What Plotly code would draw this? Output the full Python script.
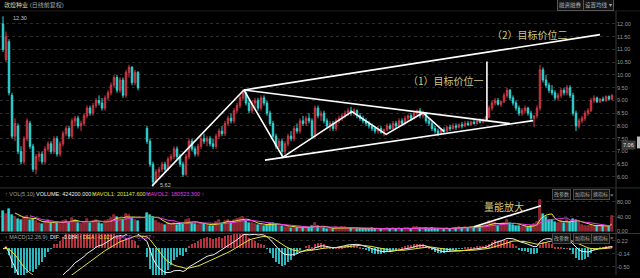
import plotly.graph_objects as go
import pandas as pd

W, H = 640, 278

# ---------------- data ----------------
left_index = list(range(0, 46))
right_index = list(range(48, 204))      # 46,47: suspension gap
bar_index = left_index + right_index

open_left = [12.0,10.6,11.3,9.2,7.6,8.0,7.0,6.6,7.5,8.1,7.2,6.3,6.8,6.9,6.6,7.1,7.3,7.0,7.5,6.9,
             7.3,7.7,7.9,7.6,8.2,8.3,8.0,8.1,8.4,8.7,8.5,8.8,9.0,8.9,8.7,9.1,9.3,9.6,9.9,9.4,
             9.8,9.2,10.1,10.3,9.7,10.1]
high_left = [12.3,11.7,11.4,9.3,8.3,8.1,7.2,7.6,8.3,8.2,7.3,6.9,7.0,7.0,7.2,7.4,7.4,7.6,7.6,7.4,
             7.8,8.0,8.0,8.3,8.4,8.4,8.2,8.5,8.8,8.8,8.9,9.1,9.2,9.1,9.2,9.4,9.7,10.0,10.0,9.9,
             9.9,10.2,10.4,10.35,10.2,10.15]
low_left = [10.9,10.5,9.2,7.5,7.4,6.9,6.5,6.5,7.4,7.1,6.2,6.1,6.6,6.5,6.5,7.0,6.9,6.9,6.8,6.8,
            7.2,7.6,7.5,7.5,8.0,7.9,7.8,8.0,8.3,8.4,8.4,8.7,8.8,8.6,8.6,9.0,9.2,9.5,9.3,9.3,
            9.1,9.1,9.9,9.6,9.6,9.4]
close_left = [11.0,11.5,9.3,7.6,8.1,7.0,6.6,7.5,8.2,7.2,6.3,6.8,6.9,6.6,7.1,7.3,7.0,7.5,6.9,7.3,
              7.7,7.9,7.6,8.2,8.3,8.0,8.1,8.4,8.7,8.5,8.8,9.0,8.9,8.7,9.1,9.3,9.6,9.9,9.4,9.8,
              9.2,10.1,10.3,9.7,10.1,9.5]

open_right = [7.9,7.4,6.5,5.8,6.2,6.3,6.5,6.3,6.7,6.8,
              7.1,6.8,6.5,6.1,6.8,7.4,7.1,6.9,7.2,7.5,
              7.4,7.5,7.3,7.2,7.6,7.8,7.7,8.1,8.3,8.2,
              8.6,8.8,9.1,9.3,8.9,8.6,8.9,9.0,8.7,9.1,
              8.9,8.5,8.1,7.6,7.2,7.4,7.0,7.3,7.6,7.5,
              7.9,7.8,8.2,8.1,8.3,8.2,7.6,8.7,8.4,8.5,
              8.2,8.0,8.1,7.9,8.2,8.3,8.4,8.5,8.6,8.5,
              8.6,8.4,8.3,8.2,8.1,8.0,7.9,7.8,7.9,7.75,
              7.85,8.0,7.9,8.1,8.0,8.2,8.1,8.3,8.4,8.3,
              8.5,8.6,8.4,8.5,8.2,8.1,7.9,7.8,7.7,7.85,
              7.8,7.95,7.9,8.0,7.95,8.05,8.0,8.1,8.05,8.15,
              8.1,8.2,8.15,8.25,8.35,8.7,8.9,9.0,8.85,8.95,
              9.2,9.4,9.1,8.9,8.7,8.5,8.6,8.7,8.5,8.3,
              8.4,8.7,10.2,9.8,9.6,9.4,9.3,9.1,9.2,9.4,
              9.3,9.5,9.2,8.5,8.0,8.2,8.3,8.5,8.6,9.0,
              9.1,8.95,9.05,9.0,9.15,9.05]
high_right = [8.0,7.5,6.6,6.3,6.4,6.6,6.6,6.8,6.9,7.2,
              7.2,6.9,6.6,6.9,7.5,7.5,7.2,7.3,7.6,7.7,
              7.6,7.6,7.5,7.7,7.9,8.0,8.2,8.4,8.5,8.7,
              8.9,9.2,9.45,9.35,9.0,9.0,9.1,9.1,9.2,9.2,
              9.0,8.6,8.2,7.7,7.5,7.5,7.4,7.7,7.8,8.0,
              8.1,8.3,8.4,8.4,8.5,8.3,8.8,8.8,8.6,8.6,
              8.3,8.2,8.2,8.3,8.4,8.5,8.6,8.7,8.75,8.7,
              8.65,8.5,8.4,8.3,8.2,8.1,8.0,8.0,8.0,7.9,
              8.1,8.1,8.2,8.2,8.3,8.3,8.4,8.45,8.5,8.6,
              8.65,8.7,8.6,8.55,8.3,8.2,8.0,7.9,7.9,7.95,
              8.0,8.05,8.1,8.1,8.1,8.15,8.2,8.2,8.2,8.25,
              8.25,8.3,8.3,8.4,8.8,9.0,9.1,9.1,9.0,9.3,
              9.5,9.45,9.2,9.0,8.8,8.7,8.8,8.75,8.6,8.4,
              8.8,10.4,10.3,10.0,9.7,9.6,9.4,9.3,9.5,9.5,
              9.6,9.6,9.3,8.6,8.3,8.4,8.6,8.7,9.1,9.2,
              9.15,9.1,9.15,9.2,9.2,9.25]
low_right = [7.3,6.4,5.62,5.75,6.0,6.2,6.2,6.25,6.6,6.7,
             6.7,6.4,6.0,6.05,6.7,7.0,6.8,6.8,7.1,7.3,
             7.2,7.2,7.1,7.1,7.5,7.6,7.6,8.0,8.1,8.1,
             8.5,8.7,9.0,8.8,8.5,8.5,8.7,8.6,8.6,8.8,
             8.4,8.0,7.5,7.1,7.1,6.8,6.9,7.2,7.4,7.4,
             7.7,7.7,8.0,8.0,8.1,7.5,7.5,8.3,8.2,8.1,
             7.9,7.8,7.8,7.8,8.1,8.2,8.3,8.4,8.4,8.4,
             8.3,8.2,8.1,8.0,7.9,7.8,7.7,7.7,7.7,7.6,
             7.8,7.85,7.85,7.9,7.95,8.0,8.05,8.2,8.2,8.25,
             8.4,8.3,8.3,8.1,8.0,7.8,7.7,7.6,7.65,7.7,
             7.75,7.8,7.85,7.85,7.9,7.9,7.95,8.0,8.0,8.05,
             8.05,8.1,8.1,8.15,8.3,8.6,8.8,8.8,8.75,8.9,
             9.1,9.0,8.8,8.6,8.4,8.4,8.5,8.4,8.2,7.95,
             8.3,8.6,9.7,9.5,9.3,9.2,9.0,9.0,9.1,9.2,
             9.2,9.1,8.4,7.8,7.9,8.1,8.2,8.4,8.55,8.9,
             8.9,8.9,8.95,8.95,9.0,9.0]
close_right = [7.4,6.5,5.8,6.2,6.3,6.5,6.3,6.7,6.8,7.1,
               6.8,6.5,6.1,6.8,7.4,7.1,6.9,7.2,7.5,7.4,
               7.5,7.3,7.2,7.6,7.8,7.7,8.1,8.3,8.2,8.6,
               8.8,9.1,9.3,8.9,8.6,8.9,9.0,8.7,9.1,8.9,
               8.5,8.1,7.6,7.2,7.4,7.0,7.3,7.6,7.5,7.9,
               7.8,8.2,8.1,8.3,8.2,7.6,8.7,8.4,8.5,8.2,
               8.0,8.1,7.9,8.2,8.3,8.4,8.5,8.6,8.5,8.6,
               8.4,8.3,8.2,8.1,8.0,7.9,7.8,7.9,7.75,7.85,
               8.0,7.9,8.1,8.0,8.2,8.1,8.3,8.4,8.3,8.5,
               8.6,8.4,8.5,8.2,8.1,7.9,7.8,7.7,7.85,7.8,
               7.95,7.9,8.0,7.95,8.05,8.0,8.1,8.05,8.15,8.1,
               8.2,8.15,8.25,8.35,8.7,8.9,9.0,8.85,8.95,9.2,
               9.4,9.1,8.9,8.7,8.5,8.6,8.7,8.5,8.3,8.4,
               8.7,10.2,9.8,9.6,9.4,9.3,9.1,9.2,9.4,9.3,
               9.5,9.2,8.5,8.0,8.2,8.3,8.5,8.6,9.0,9.1,
               8.95,9.05,9.0,9.15,9.05,9.2]

# volume in units of 10,000 shares
volume_left = [55,48,60,45,40,35,30,38,42,30,35,28,22,20,25,30,22,26,24,20,
               28,32,24,36,30,22,20,26,34,24,28,32,22,20,28,30,36,45,40,32,
               30,48,44,36,30,28]
volume_right = [50,45,40,28,22,20,18,22,20,24,
                18,20,22,30,34,24,20,18,22,20,
                18,16,15,26,30,22,28,32,24,30,
                34,36,38,28,24,22,20,18,20,16,
                18,22,24,20,14,16,12,14,10,14,
                10,12,10,11,9,14,22,14,10,9,
                8,9,8,12,10,11,12,10,9,10,
                8,7,8,7,8,9,7,6,8,7,
                9,8,10,8,9,8,10,9,8,11,
                12,10,9,10,8,9,8,7,7,8,
                9,8,10,9,11,10,12,10,11,13,
                12,14,16,18,28,24,22,16,18,24,
                30,22,18,14,16,12,14,12,16,20,
                26,85,48,40,32,30,26,22,28,24,
                30,26,34,30,22,18,16,15,17,16,
                15.95,15,14,15,14.15,42.42]

price_ticks = [6.0,6.5,7.0,7.5,8.0,8.5,9.0,9.5,10.0,10.5,11.0,11.5,12.0]
vol_ticks = [0,40,80]
macd_ticks = [-0.50,-0.14,0.22]

# hand-drawn pattern lines (bar index, price)
rise_x, rise_y = [49.7, 80.3], [5.65, 9.41]
target2_x, target2_y = [80.3, 199.0], [9.41, 11.58]
upper_x, upper_y = [80.3, 169.0], [9.41, 8.09]
lower_x, lower_y = [87.3, 176.7], [6.66, 8.21]
zig_x = [80.3, 93.3, 116.3, 127.7, 140.0, 147.0]
zig_y = [9.41, 6.78, 8.56, 7.67, 8.52, 7.78]
height_x, height_y = [161.3, 161.3], [8.20, 10.53]
volup_x, volup_y = [157.0, 179.3], [13, 69]
event_index = [1,5,8,16,19,20,21,24,26,45,47,50,52,58,67,80,82,83,85,96,108,111,
               136,137,142,149,158,175,177,179,193,195]

# ---------------- derived ----------------
opens = open_left + open_right
highs = high_left + high_right
lows = low_left + low_right
closes = close_left + close_right
volumes = volume_left + volume_right

df = pd.DataFrame(dict(x=bar_index, o=opens, h=highs, l=lows, c=closes, v=volumes))
ema12 = df.c.ewm(span=12, adjust=False).mean()
ema26 = df.c.ewm(span=26, adjust=False).mean()
df["dif"] = ema12 - ema26
df["dea"] = df.dif.ewm(span=9, adjust=False).mean()
df["macd"] = 2 * (df.dif - df.dea)
df["ma5"] = df.v.rolling(5).mean()
df["ma10"] = df.v.rolling(10).mean()
up = df.c >= df.o

RED = "#d63a46"
RED_FILL = "#7a2230"
CYAN = "#30d6d6"
HRED = "#b8323e"
HCYAN = "#2ab8c0"
YEL = "#e6e23c"
MAG = "#e040e0"
WHITE = "#eeeeee"
LBL = "#cfcb80"
GRID = "#2c2c2c"
AXT = "#9a9a9a"

def px(x):
    return x / W

def py(y):
    return 1 - y / H

fig = go.Figure()

fig.add_trace(go.Candlestick(
    x=df.x, open=df.o, high=df.h, low=df.l, close=df.c,
    increasing=dict(line=dict(color=RED, width=1), fillcolor=RED_FILL),
    decreasing=dict(line=dict(color=CYAN, width=1), fillcolor=CYAN),
    whiskerwidth=0, showlegend=False, hoverinfo="skip", xaxis="x", yaxis="y"))

fig.add_trace(go.Bar(
    x=df.x, y=df.v, width=0.7,
    marker=dict(color=[RED_FILL if u else CYAN for u in up],
                line=dict(color=[RED if u else CYAN for u in up], width=0.6)),
    showlegend=False, hoverinfo="skip", xaxis="x2", yaxis="y2"))
fig.add_trace(go.Scatter(x=df.x, y=df.ma5, mode="lines", line=dict(color=YEL, width=1),
                         showlegend=False, hoverinfo="skip", xaxis="x2", yaxis="y2"))
fig.add_trace(go.Scatter(x=df.x, y=df.ma10, mode="lines", line=dict(color=MAG, width=1),
                         showlegend=False, hoverinfo="skip", xaxis="x2", yaxis="y2"))

fig.add_trace(go.Bar(
    x=df.x, y=df.macd, width=0.28,
    marker=dict(color=[HRED if m >= 0 else HCYAN for m in df.macd], line=dict(width=0)),
    showlegend=False, hoverinfo="skip", xaxis="x3", yaxis="y3"))
fig.add_trace(go.Scatter(x=df.x, y=df.dif, mode="lines", line=dict(color=WHITE, width=1),
                         showlegend=False, hoverinfo="skip", xaxis="x3", yaxis="y3"))
fig.add_trace(go.Scatter(x=df.x, y=df.dea, mode="lines", line=dict(color=YEL, width=1),
                         showlegend=False, hoverinfo="skip", xaxis="x3", yaxis="y3"))

# pattern lines
for xs, ys in [(rise_x, rise_y), (target2_x, target2_y), (upper_x, upper_y),
               (lower_x, lower_y), (zig_x, zig_y), (height_x, height_y)]:
    fig.add_trace(go.Scatter(x=xs, y=ys, mode="lines", line=dict(color="#ffffff", width=1.6),
                             showlegend=False, hoverinfo="skip", xaxis="x", yaxis="y"))
fig.add_trace(go.Scatter(x=volup_x, y=volup_y, mode="lines", line=dict(color="#ffffff", width=1.6),
                         showlegend=False, hoverinfo="skip", xaxis="x2", yaxis="y2",
                         cliponaxis=False))
# event markers along the top
fig.add_trace(go.Scatter(x=event_index, y=[12.6] * len(event_index), mode="markers",
                         marker=dict(symbol="line-ns", size=3.5, line=dict(color="#d0d0d0", width=1.2)),
                         showlegend=False, hoverinfo="skip", xaxis="x", yaxis="y", cliponaxis=False))

XR = [-1, 204.33]
XD = [0, px(616)]
xcommon = dict(range=XR, domain=XD, showgrid=False, zeroline=False, showticklabels=False,
               showline=False, ticks="")
ycommon = dict(side="right", showline=False, zeroline=False, ticks="", gridcolor=GRID,
               griddash="dot", gridwidth=1, tickfont=dict(size=5.5, color=AXT, family="Liberation Sans"))

fig.update_layout(
    width=W, height=H, margin=dict(l=0, r=0, t=0, b=0),
    paper_bgcolor="#000000", plot_bgcolor="#000000",
    showlegend=False, bargap=0,
    xaxis=dict(**xcommon, anchor="y", rangeslider=dict(visible=False)),
    xaxis2=dict(**xcommon, anchor="y2", matches="x"),
    xaxis3=dict(**xcommon, anchor="y3", matches="x"),
    yaxis=dict(**ycommon, domain=[py(190), py(10)], range=[5.57, 12.55], anchor="x",
               tickvals=price_ticks, ticktext=[f"{t:.2f}" for t in price_ticks]),
    yaxis2=dict(**ycommon, domain=[py(234), py(190)], range=[0, 117], anchor="x2",
                tickvals=vol_ticks, ticktext=[f"{t:.2f}" for t in vol_ticks]),
    yaxis3=dict(**ycommon, domain=[0, py(236)], range=[-0.72, 0.42], anchor="x3",
                tickvals=macd_ticks, ticktext=[f"{t:.2f}" for t in macd_ticks]),
)

shapes = [
    dict(type="line", xref="paper", yref="paper", x0=px(616), x1=px(616), y0=0, y1=py(11),
         line=dict(color="#3a3a3a", width=1)),
    dict(type="line", xref="paper", yref="paper", x0=0, x1=1, y0=py(190), y1=py(190),
         line=dict(color="#2e2e2e", width=1)),
    dict(type="line", xref="paper", yref="paper", x0=0, x1=1, y0=py(236), y1=py(236),
         line=dict(color="#3a3a3a", width=1)),
    dict(type="line", xref="paper", yref="paper", x0=0, x1=1, y0=py(11), y1=py(11),
         line=dict(color="#1e1e1e", width=1)),
    dict(type="rect", xref="paper", yref="paper", x0=px(637), x1=px(640), y0=py(150), y1=py(138),
         fillcolor="#bbbbbb", line=dict(width=0)),
]
fig.update_layout(shapes=shapes)

ann = []

def text(x, y, s, color, size=5.5, xanchor="left", family="Liberation Sans, Noto Sans CJK SC", **kw):
    ann.append(dict(x=px(x), y=py(y), xref="paper", yref="paper", text=s, showarrow=False,
                    xanchor=xanchor, yanchor="middle", font=dict(size=size, color=color, family=family), **kw))

# header
text(2, 5, "<span style='color:#d8d8b0'>敦煌种业</span> (日线前复权)", "#a8a8a8", size=6)
# top-right buttons
for x0, s in [(570, "融资融券"), (598, "设置均线 ▾")]:
    text(x0, 5, s, "#b0b0b0", size=5.5, xanchor="center", bordercolor="#555555",
         borderwidth=1, borderpad=1, bgcolor="#141414")
# panel buttons
for yb in (197, 241):
    for x0, s in [(561, "改参数"), (582, "加指标"), (600, "换指标")]:
        text(x0, yb, s, "#a8a8a8", size=5, xanchor="center", bordercolor="#4a4a4a",
             borderwidth=1, borderpad=1, bgcolor="#141414")
    text(612, yb, "×", "#a8a8a8", size=6, xanchor="center")

# indicator legends
text(3, 196, "↑ VOL(5,10)", "#a0a0a0")
text(34, 196, "VOLUME: 424200.000 ↑", WHITE)
text(90, 196, "MAVOL1: 201147.600 ↑", YEL)
text(144, 196, "MAVOL2: 180523.300 ↑", MAG)
text(3, 240, "↑ MACD(12,26,9)", "#a0a0a0")
text(48, 240, "DIF: -0.084 ↑", WHITE)
text(81, 240, "DEA: -0.021 ↓", YEL)
text(114, 240, "MACD: -0.127 ↑", MAG)

# price marks
text(11, 18, "12.30", "#c8c8c8")
text(158, 187, "5.62", "#c8c8c8")
text(628, 147, "7.06", "#e0e0e0", xanchor="center", bgcolor="#3c3c3c")

fig.update_layout(annotations=ann)

# pattern labels in data coordinates
fig.add_annotation(x=175.5, y=11.60, xref="x", yref="y", text="（2）目标价位二", showarrow=False,
                   font=dict(size=10, color=LBL, family="Noto Sans CJK SC"))
fig.add_annotation(x=147.6, y=9.80, xref="x", yref="y", text="（1）目标价位一", showarrow=False,
                   font=dict(size=10, color=LBL, family="Noto Sans CJK SC"))
fig.add_annotation(x=167, y=68, xref="x2", yref="y2", text="量能放大", showarrow=False,
                   font=dict(size=10, color=LBL, family="Noto Sans CJK SC"))

fig.write_html("out.html")
